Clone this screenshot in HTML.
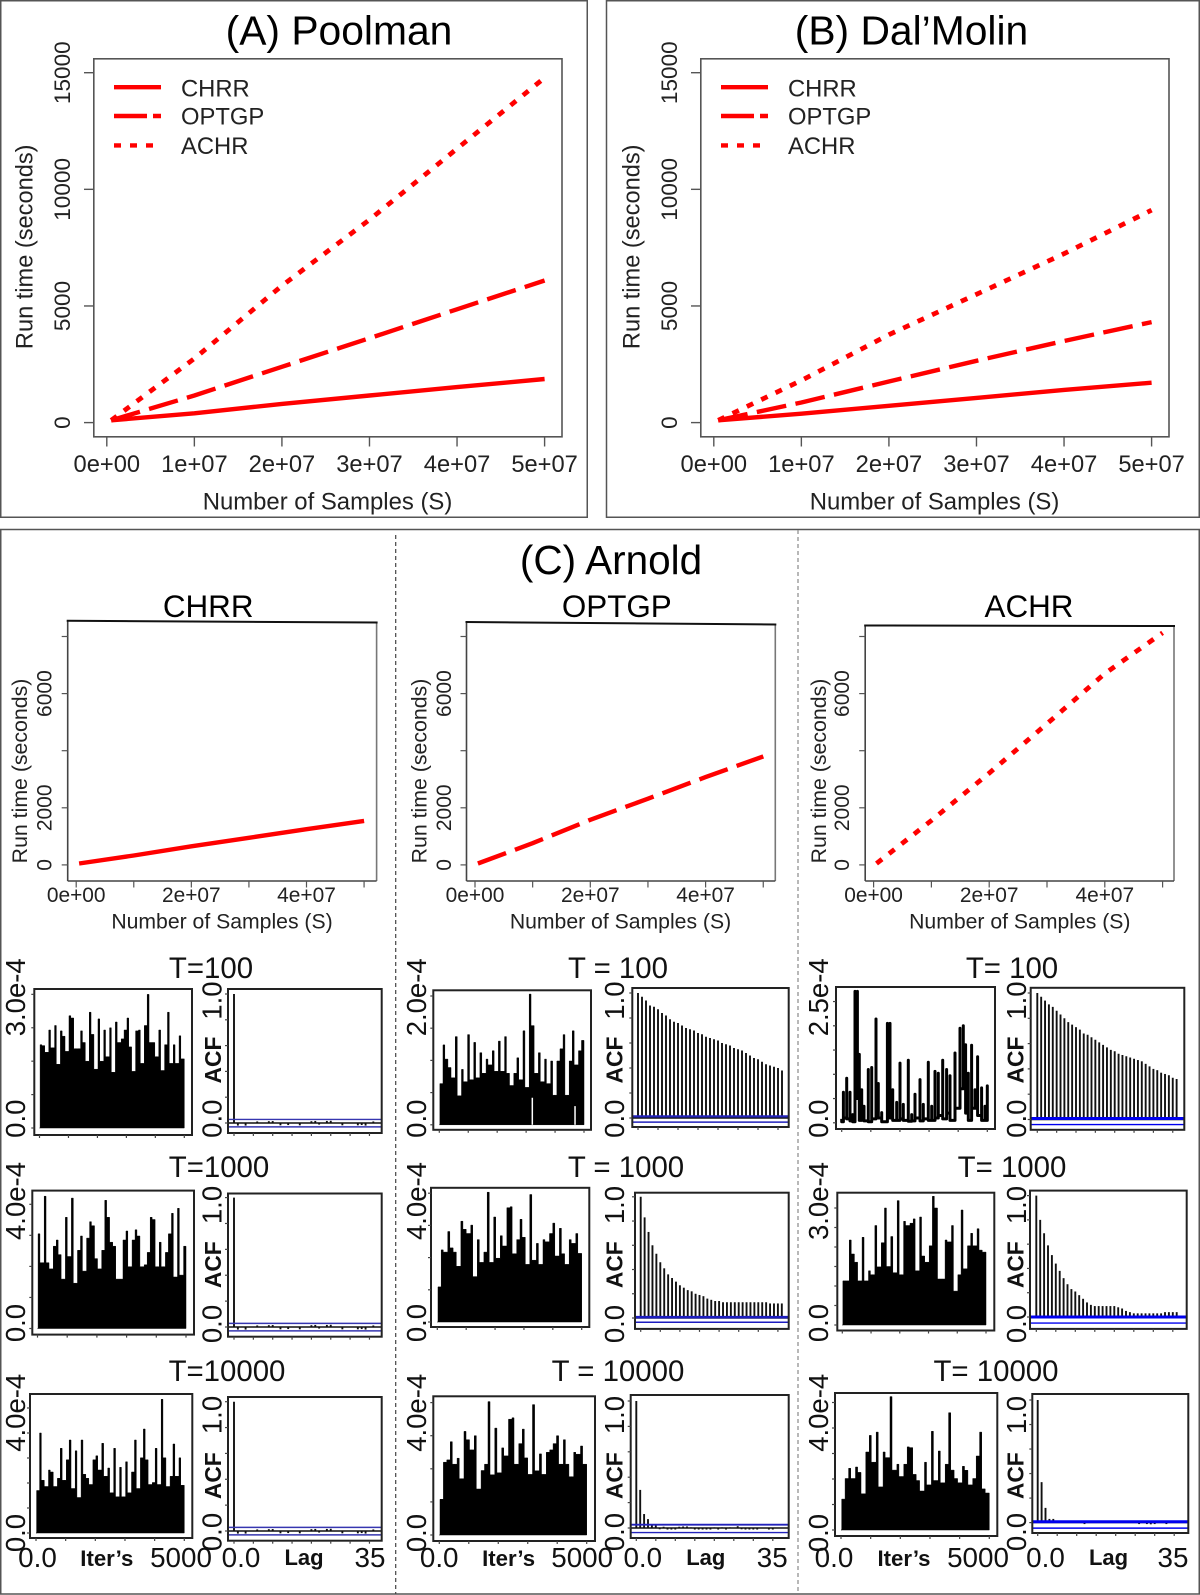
<!DOCTYPE html>
<html lang="en">
<head>
<meta charset="utf-8">
<title>Run time and trace comparison</title>
<style>
html,body{margin:0;padding:0;background:#fff;width:1200px;height:1595px;overflow:hidden}
svg{display:block;filter:blur(0.35px)}
text{font-family:"Liberation Sans",sans-serif}
</style>
</head>
<body>
<svg id="figure" xmlns="http://www.w3.org/2000/svg" width="1200" height="1595" viewBox="0 0 1200 1595"></svg>
<script>
/* ---------- run time data ---------- */
var sampleCounts = [5e5, 1e7, 2e7, 3e7, 4e7, 5e7];
var poolmanChrr  = [100, 400, 800, 1160, 1520, 1870];
var poolmanOptgp = [100, 1160, 2390, 3620, 4855, 6090];
var poolmanAchr  = [100, 2750, 5870, 8700, 11740, 14780];
var dalmolinChrr  = [100, 380, 720, 1060, 1400, 1710];
var dalmolinOptgp = [100, 860, 1760, 2650, 3500, 4310];
var dalmolinAchr  = [100, 1810, 3770, 5500, 7240, 9110];
var arnoldChrr  = [50, 330, 650, 950, 1250, 1540];
var arnoldOptgp = [50, 760, 1580, 2320, 3076, 3800];
var arnoldAchr  = [50, 1556, 3216, 4947, 6700, 8130];
var wideXTicks = [0, 1e7, 2e7, 3e7, 4e7, 5e7];
var wideXLabels = ["0e+00", "1e+07", "2e+07", "3e+07", "4e+07", "5e+07"];
var wideYTicks = [0, 5000, 10000, 15000];
var wideYLabels = ["0", "5000", "10000", "15000"];
var smallXLabels = ["0e+00", "", "2e+07", "", "4e+07", ""];
var smallYTicks = [0, 2000, 4000, 6000, 8000];
var smallYLabels = ["0", "2000", "", "6000", ""];

/* ---------- trace data (units of 1e-4) ---------- */
var traceChrr100 = [1.87,1.85,1.7,2.2,1.8,2.3,1.43,2.18,2.06,1.72,2.52,2.47,1.78,1.78,2.18,1.92,1.5,2.6,2.1,1.32,2.45,1.5,2.2,1.6,2.25,1.25,2.38,1.92,2.0,2.2,2.47,1.82,1.27,2.18,2.2,1.45,2.3,3.0,1.92,1.92,1.6,2.2,1.29,1.87,2.6,1.45,1.87,1.45,2.07,1.55];
var traceChrr1000 = [3.05,2.12,4.26,2.12,1.92,2.65,2.85,2.38,1.59,3.58,2.32,4.2,1.46,2.52,2.98,1.85,2.91,3.44,3.31,2.25,1.92,2.52,4.13,3.58,2.78,2.65,1.59,1.59,2.85,3.14,1.99,2.85,3.18,2.98,1.99,2.05,2.45,3.58,3.51,1.99,2.78,1.99,2.45,3.05,3.71,1.66,3.87,1.72,2.65];
var traceChrr10000 = [1.7,4,2.11,1.86,2.52,2.44,1.86,2.19,3.39,2.11,2.93,3.72,1.78,3.29,1.42,3.72,2.35,2.19,1.94,2.93,3.09,2.52,3.59,2.27,2.6,1.61,3.39,1.45,2.63,1.45,2.85,1.61,2.44,3.72,1.78,3.01,4.16,2.93,1.94,2.02,3.39,1.94,5.35,3.01,1.86,2.27,3.56,2.27,3.01,1.91];
var traceOptgp100 = [.64,1.24,1.02,.89,.73,1.37,.45,.86,.67,1.4,.7,1.28,.73,1.12,.8,1.02,.93,1.15,.83,1.3,.83,1.37,.8,.61,.8,1.04,.7,1.46,.58,2.03,1.54,.8,1.12,.67,1.02,.64,.99,.46,.99,1.18,1.4,.46,.99,1.46,.93,1.15,1.31];
var traceOptgp100Iter = [3214, 4690];
var traceOptgp100Notch = [.42, .29];
var traceOptgp1000 = [1.09,2.24,2.17,2.81,2.3,2.17,1.73,3.13,2.88,2.75,3.01,1.41,2.56,1.85,2.17,4.03,1.85,3.26,1.98,2.68,2.36,3.55,3.58,2.12,2.56,3.19,2.63,1.79,3.96,1.92,2.44,1.79,2.56,2.49,2.75,3.07,2.05,2.91,2.12,1.79,2.56,2.44,2.75,2.13];
var traceOptgp10000 = [1.08,2.2,2.27,2.82,2.14,2.32,1.7,3.13,2.88,2.57,3.0,1.39,1.95,2.14,4.03,1.82,3.23,1.88,2.63,2.39,3.5,3.54,2.14,2.76,3.2,2.33,1.83,3.94,1.94,2.45,1.83,2.5,2.57,2.76,3.0,2.14,2.88,2.14,1.76,2.5,2.44,2.69,2.14];
var traceAchr100Iter = [0,57,172,286,378,458,538,606,686,767,915,1030,1178,1258,1373,1568,1659,1751,1888,2002,2117,2288,2403,2517,2689,2803,2975,3089,3204,3318,3467,3604,3719,3890,4062,4176,4256,4348,4462,4577,4668,4805,4920,5000];
var traceAchr100High = [.08,.63,.92,.63,.17,2.71,2.71,1.41,.68,.34,1.1,1.14,2.14,.81,.21,2.05,2.05,.68,.42,1.23,.38,1.29,.17,.59,.89,.38,1.25,.34,1.06,1.02,1.29,1.1,.97,1.44,1.95,2.0,1.61,1.02,1.6,.68,1.36,.72,.34,.76];
var traceAchr100Low = [.02,.1,.08,.04,.02,.5,1.2,.05,.1,.04,.02,.08,.3,.1,.02,.6,.1,.05,.05,.08,.05,.03,.04,.1,.04,.08,.05,.05,.1,.15,.08,.2,.05,.3,.7,.8,.2,.05,.3,.3,.15,.05,.05,.2];
var traceAchr1000 = [1.13,1.13,2.18,1.82,1.61,1.13,2.25,1.13,1.39,1.29,2.55,1.49,2.11,3.0,1.5,2.27,1.34,3.19,1.29,2.66,2.55,2.61,2.72,1.39,2.77,1.77,1.61,2.03,3.3,3.0,1.18,1.18,2.18,2.13,2.55,.87,1.29,2.95,1.44,2.03,2.35,2.03,2.47,1.92,1.87];
var traceAchr10000 = [1.21,2.02,2.42,2.02,2.47,2.26,1.42,3.06,3.71,2.66,3.84,1.69,3.06,2.84,5.23,2.35,2.58,2.1,2.58,3.26,3.23,2.18,1.94,1.53,2.66,1.77,3.87,1.94,3.1,1.85,2.58,4.6,2.35,2.02,1.85,2.5,2.34,1.77,2.02,2.9,3.84,1.61,1.45];

/* ---------- autocorrelation data (lags 0..36) ---------- */
var acfChrrAll = [1,-.02,.004,-.02,.002,-.004,.012,-.002,.004,.014,.015,-.003,-.018,.002,-.016,-.002,.001,-.018,.002,-.004,.014,.016,-.012,.003,.016,.017,-.004,-.002,-.018,.002,.003,-.002,-.018,-.016,-.02,.003,.012];
var acfOptgp100 = [1,.97,.94,.90,.89,.87,.84,.82,.79,.77,.76,.74,.72,.71,.70,.68,.67,.65,.64,.63,.62,.60,.59,.58,.56,.55,.54,.52,.50,.48,.47,.45,.43,.42,.41,.40,.38];
var acfOptgp1000 = [1,.83,.71,.60,.53,.46,.41,.36,.33,.30,.27,.25,.23,.22,.20,.19,.18,.16,.15,.14,.14,.13,.13,.13,.13,.13,.13,.13,.13,.13,.13,.13,.13,.12,.12,.12,.12];
var acfOptgp10000 = [1,.30,.11,.07,.03,.02,-.01,.01,-.012,-.012,-.012,.01,.012,.012,.005,-.012,-.012,-.012,-.012,-.012,.005,-.012,.005,-.012,.005,-.002,.014,-.01,-.012,-.012,-.012,-.012,.004,.003,-.012,-.012,.002];
var acfAchr100 = [1,.97,.94,.91,.89,.86,.83,.80,.77,.75,.73,.71,.68,.67,.65,.63,.61,.59,.57,.55,.54,.52,.51,.50,.49,.48,.47,.46,.44,.42,.40,.39,.37,.36,.35,.33,.32];
var acfAchr1000 = [1,.80,.69,.59,.51,.44,.38,.32,.27,.23,.21,.18,.15,.12,.10,.09,.09,.09,.09,.09,.09,.08,.07,.05,.04,.03,.03,.03,.03,.03,.03,.03,.03,.04,.04,.04,.04];
var acfAchr10000 = [1,.33,.12,.03,.03,.005,.014,.005,.002,.004,.002,.003,-.012,.002,.003,.002,.003,.002,.002,.003,.002,.002,.003,.002,.002,.002,-.012,.003,-.012,-.014,-.012,.002,.002,-.012,.003,.014,.002];
var lagTicks = [0, 5, 10, 15, 20, 25, 30, 35];
var acfTicks = [0, .2, .4, .6, .8, 1];

var NS = "http://www.w3.org/2000/svg";
var fig = document.getElementById("figure");

function line(parent, name, x1, y1, x2, y2, color, w, dash) {
  var el = document.createElementNS(NS, "line");
  
  
  el.setAttribute("x1", x1); el.setAttribute("y1", y1);
  el.setAttribute("x2", x2); el.setAttribute("y2", y2);
  el.setAttribute("stroke", color); el.setAttribute("stroke-width", w);
  if (dash) el.setAttribute("stroke-dasharray", dash);
  parent.appendChild(el);
  return el;
}
function rect(parent, name, x, y, w, h, stroke, sw) {
  var el = document.createElementNS(NS, "rect");
  
  
  el.setAttribute("x", x); el.setAttribute("y", y);
  el.setAttribute("width", w); el.setAttribute("height", h);
  el.setAttribute("fill", "none"); el.setAttribute("stroke", stroke); el.setAttribute("stroke-width", sw);
  parent.appendChild(el);
  return el;
}
function text(parent, name, x, y, str, size, anchor, color, weight, rot) {
  var el = document.createElementNS(NS, "text");
  
  
  el.setAttribute("x", x); el.setAttribute("y", y);
  el.setAttribute("font-size", size);
  el.setAttribute("text-anchor", anchor || "middle");
  el.setAttribute("fill", color || "#222");
  if (weight) el.setAttribute("font-weight", weight);
  if (rot) el.setAttribute("transform", "rotate(-90 " + x + " " + y + ")");
  el.textContent = str;
  parent.appendChild(el);
  return el;
}
function path(parent, name, d, fill, stroke, sw, dash) {
  var el = document.createElementNS(NS, "path");
  
  
  el.setAttribute("d", d);
  el.setAttribute("fill", fill);
  if (stroke) { el.setAttribute("stroke", stroke); el.setAttribute("stroke-width", sw); el.setAttribute("stroke-linejoin", "round"); }
  if (dash) el.setAttribute("stroke-dasharray", dash);
  parent.appendChild(el);
  return el;
}
function group(name) {
  var g = document.createElementNS(NS, "g");
  
  
  fig.appendChild(g);
  return g;
}
var LONG_DASH = "30 9.5", DOT = "7 8.9";

function seriesPath(g, name, xs, ys, xf, yf, dash) {
  var d = "";
  for (var i = 0; i < xs.length; i++) d += (i ? "L" : "M") + xf(xs[i]).toFixed(1) + " " + yf(ys[i]).toFixed(1);
  path(g, name, d, "none", "#ff0000", dash === DOT ? 4.8 : 4.4, dash);
}

/* Large run-time chart (panels A and B) */
function wideChart(prefix, dx, titleStr, titleX, chrr, optgp, achr) {
  var g = group(prefix + "-chart");
  var xf = function (v) { return dx + 106.8 + v / 5e7 * 437.8; };
  var yf = function (v) { return 422.6 - v / 15000 * 349.9; };
  text(g, prefix + "-title", titleX, 44.6, titleStr, 40.8, "middle", "#000");
  rect(g, prefix + "-plot-box", dx + 93.8, 58.8, 468.2, 378, "#555", 1.6);
  wideXTicks.forEach(function (v, i) {
    line(g, prefix + "-x-tick", xf(v), 436.8, xf(v), 446.5, "#555", 1.4);
    text(g, prefix + "-x-tick-label", xf(v), 472, wideXLabels[i], 23.7);
  });
  wideYTicks.forEach(function (v, i) {
    line(g, prefix + "-y-tick", dx + 84, yf(v), dx + 93.8, yf(v), "#555", 1.4);
    text(g, prefix + "-y-tick-label", dx + 70, yf(v), wideYLabels[i], 22.6, "middle", "#222", null, true);
  });
  text(g, prefix + "-x-axis-title", dx + 327.5, 509.5, "Number of Samples (S)", 23.9);
  text(g, prefix + "-y-axis-title", dx + 32.5, 246.8, "Run time (seconds)", 23.6, "middle", "#222", null, true);
  seriesPath(g, prefix + "-line-achr", sampleCounts, achr, xf, yf, DOT);
  seriesPath(g, prefix + "-line-optgp", sampleCounts, optgp, xf, yf, LONG_DASH);
  seriesPath(g, prefix + "-line-chrr", sampleCounts, chrr, xf, yf, null);
  line(g, prefix + "-legend-line-chrr", dx + 114, 87.2, dx + 161, 87.2, "#ff0000", 4.4);
  line(g, prefix + "-legend-line-optgp", dx + 114, 116, dx + 161, 116, "#ff0000", 4.4, "33 6");
  line(g, prefix + "-legend-line-achr", dx + 114, 145.4, dx + 156, 145.4, "#ff0000", 4.4, "7 9");
  text(g, prefix + "-legend-label-chrr", dx + 181, 96.3, "CHRR", 23.8, "start");
  text(g, prefix + "-legend-label-optgp", dx + 181, 124.4, "OPTGP", 23.8, "start");
  text(g, prefix + "-legend-label-achr", dx + 181, 153.8, "ACHR", 23.8, "start");
}

/* Small run-time chart (panel C top row) */
function smallChart(prefix, l, r, topL, topR, x0, x4, titleStr, titleX, labelX, tickLabelX, xTitleX, series, dash) {
  var g = group(prefix + "-chart");
  var xf = function (v) { return x0 + v / 4e7 * (x4 - x0); };
  var yf = function (v) { return 864.9 - v / 2000 * 57.1; };
  text(g, prefix + "-title", titleX, 616.8, titleStr, 31.4, "middle", "#000");
  line(g, prefix + "-box-left", l, topL, l, 881, "#444", 1.6);
  line(g, prefix + "-box-right", r, topR, r, 881, "#777", 1.6);
  line(g, prefix + "-box-bottom", l, 881, r, 881, "#444", 1.6);
  line(g, prefix + "-box-top", l - 1, topL, r + 1, topR, "#111", 2);
  wideXTicks.forEach(function (v, i) {
    line(g, prefix + "-x-tick", xf(v), 881, xf(v), 887.5, "#555", 1.2);
    if (smallXLabels[i]) text(g, prefix + "-x-tick-label", xf(v), 902, smallXLabels[i], 20.9);
  });
  smallYTicks.forEach(function (v, i) {
    line(g, prefix + "-y-tick", l - 6, yf(v), l, yf(v), "#555", 1.2);
    if (smallYLabels[i]) text(g, prefix + "-y-tick-label", tickLabelX, yf(v), smallYLabels[i], 21, "middle", "#222", null, true);
  });
  text(g, prefix + "-x-axis-title", xTitleX, 928.5, "Number of Samples (S)", 21.2);
  text(g, prefix + "-y-axis-title", labelX, 771, "Run time (seconds)", 21.3, "middle", "#222", null, true);
  seriesPath(g, prefix + "-line", sampleCounts, series, xf, yf, dash);
}

/* Trace plot. values[i] evenly spaced over 0..5000 iterations */
function tracePlot(prefix, box, xL, xR, y0, pxPerUnit, tickStep, tickTop, values, iters, lows, notchIter, notchVal) {
  var g = group(prefix);
  var xf = function (it) { return xL + it / 5000 * (xR - xL); };
  var yf = function (v) { return y0 - v * pxPerUnit; };
  if (lows) {
    var d = "";
    values.forEach(function (v, i) {
      var x = xf(iters[i]).toFixed(1);
      d += (i ? "H" + x + "V" : "M" + x + " ") + yf(v).toFixed(1) + "V" + yf(lows[i]).toFixed(1);
    });
    path(g, prefix + "-line", d, "none", "#000", 3);
  } else {
    var n = values.length, w = (xR - xL) / n;
    var s = "M" + xL + " " + y0;
    values.forEach(function (v, i) {
      var c = xf((i + .5) / n * 5000);
      var next = i + 1 < n ? Math.min(v, values[i + 1]) : v;
      s += "H" + (c - .3 * w).toFixed(1) + "V" + yf(v).toFixed(1) + "H" + (c + .3 * w).toFixed(1) + "V" + yf(next).toFixed(1);
    });
    s += "H" + xR + "V" + y0 + "Z";
    path(g, prefix + "-area", s, "#000", "#000", 0.5);
    if (notchIter) notchIter.forEach(function (it, i) {
      line(g, prefix + "-notch", xf(it), y0, xf(it), yf(notchVal[i]), "#fff", 1.5);
    });
  }
  rect(g, prefix + "-box", box[0], box[1], box[2] - box[0], box[3] - box[1], "#222", 2);
  for (var t = 0; t <= 5; t++) line(g, prefix + "-x-tick", xf(t * 1000), box[3], xf(t * 1000), box[3] + 3, "#444", 1.2);
  for (var v = 0; v <= tickTop + 1e-6; v += tickStep) line(g, prefix + "-y-tick", box[0] - 3, yf(v), box[0], yf(v), "#444", 1.2);
}

/* Autocorrelation plot */
function acfPlot(prefix, box, x0, dLag, y0, yTop, up, low, values, blue, blueW) {
  var g = group(prefix);
  var xf = function (lag) { return x0 + lag * dLag; };
  var yf = function (v) { return y0 - v * (y0 - yTop); };
  values.forEach(function (v, lag) {
    line(g, prefix + "-bar-lag", xf(lag), y0, xf(lag), yf(v), "#111", 1.9);
  });
  line(g, prefix + "-zero-line", box[0], y0, box[2], y0, "#111", 1.4);
  line(g, prefix + "-ci-upper", box[0], yf(up), box[2], yf(up), blue, blueW);
  line(g, prefix + "-ci-lower", box[0], yf(low), box[2], yf(low), blue, 1.4);
  rect(g, prefix + "-box", box[0], box[1], box[2] - box[0], box[3] - box[1], "#222", 2);
  lagTicks.forEach(function (lag) { line(g, prefix + "-x-tick", xf(lag), box[3], xf(lag), box[3] + 3, "#444", 1.2); });
  acfTicks.forEach(function (v) { line(g, prefix + "-y-tick", box[0] - 3, yf(v), box[0], yf(v), "#444", 1.2); });
}

/* Panels */
rect(fig, "panel-a-border", 0.75, 0.75, 586.5, 516.5, "#555", 1.5);
rect(fig, "panel-b-border", 606.5, 0.75, 592.75, 516.5, "#555", 1.5);
rect(fig, "panel-c-border", 0.75, 529.5, 1198.5, 1064.5, "#555", 1.5);
line(fig, "column-divider-left", 395.7, 535, 395.7, 1594, "#444", 1.2, "4 3");
line(fig, "column-divider-right", 798, 530, 798, 1594, "#999", 1.4, "4 3");

wideChart("poolman", 0, "(A) Poolman", 339, poolmanChrr, poolmanOptgp, poolmanAchr);
wideChart("dalmolin", 607, "(B) Dal\u2019Molin", 911.5, dalmolinChrr, dalmolinOptgp, dalmolinAchr);
text(fig, "panel-c-title", 611, 574, "(C) Arnold", 40.5, "middle", "#000");

smallChart("arnold-chrr", 67.7, 376.6, 620.8, 622.5, 76.2, 306.5, "CHRR", 208.2, 26.8, 51.7, 222, arnoldChrr, null);
smallChart("arnold-optgp", 466.5, 775.3, 622, 624.5, 475, 705.6, "OPTGP", 616.8, 426.7, 450.8, 620.5, arnoldOptgp, LONG_DASH);
smallChart("arnold-achr", 865.2, 1174, 625.5, 626, 873.6, 1104.8, "ACHR", 1029, 825.8, 848.8, 1019.8, arnoldAchr, DOT);

/* Row titles */
[["T=100",211,978],["T=1000",219,1177],["T=10000",227,1381],
 ["T = 100",618,978],["T = 1000",626,1177],["T = 10000",618,1381],
 ["T= 100",1012,978],["T= 1000",1012,1177],["T= 10000",996,1381]].forEach(function (t) {
  text(fig, "trace-title", t[1], t[2], t[0], 29.4, "middle", "#111");
});

/* Column 1: CHRR */
tracePlot("chrr-t100-trace", [34.3,989,192,1135], 39.5, 184.3, 1128, 44.55, .75, 3, traceChrr100);
tracePlot("chrr-t1000-trace", [32.3,1190.6,194,1334.6], 37.5, 186, 1328.5, 31.05, 1, 4, traceChrr1000);
tracePlot("chrr-t10000-trace", [30,1394,192.3,1538], 36, 184.3, 1533, 25, 1, 5, traceChrr10000);
acfPlot("chrr-t100-acf", [228,989,381.7,1133], 234, 3.87, 1123, 994, .028, -.03, acfChrrAll, "#3636b0", 1.4);
acfPlot("chrr-t1000-acf", [228,1193.5,381.7,1336.7], 234, 3.87, 1327, 1197.6, .028, -.03, acfChrrAll, "#3636b0", 1.4);
acfPlot("chrr-t10000-acf", [228,1397,381.7,1540.7], 234, 3.87, 1531, 1401.7, .028, -.03, acfChrrAll, "#3636b0", 1.4);

/* Column 2: OPTGP */
tracePlot("optgp-t100-trace", [433.3,990.3,591,1129.8], 439.3, 584, 1124.8, 64.4, .5, 2, traceOptgp100, null, null, traceOptgp100Iter, traceOptgp100Notch);
tracePlot("optgp-t1000-trace", [431,1187.8,589.3,1327], 437.3, 581.7, 1322, 32.2, 1, 4, traceOptgp1000);
tracePlot("optgp-t10000-trace", [433.3,1396.3,595,1541], 439.3, 586.7, 1535, 33.1, 1, 4, traceOptgp10000);
acfPlot("optgp-t100-acf", [632.3,988,788.7,1127], 638, 4, 1118, 993, .013, -.033, acfOptgp100, "#2222bb", 2.2);
acfPlot("optgp-t1000-acf", [635,1192.7,788.7,1328.9], 640.7, 3.92, 1318, 1196.8, .007, -.035, acfOptgp1000, "#1c1cc0", 2.6);
acfPlot("optgp-t10000-acf", [630.7,1395,788.7,1538], 636.3, 3.9, 1528, 1401, .026, -.036, acfOptgp10000, "#2222bb", 1.8);

/* Column 3: ACHR */
tracePlot("achr-t100-trace", [836,987,995,1129], 841.7, 987.3, 1122.8, 48.5, .5, 2.5, traceAchr100High, traceAchr100Iter, traceAchr100Low);
tracePlot("achr-t1000-trace", [837.3,1192.7,994.3,1330.5], 842.3, 986, 1325, 39, .5, 3, traceAchr1000);
tracePlot("achr-t10000-trace", [835,1393,997.3,1536], 841, 989.3, 1530, 25.5, 1, 5, traceAchr10000);
acfPlot("achr-t100-acf", [1030.7,987.8,1184.3,1129.8], 1037.3, 3.87, 1119.5, 993, .008, -.04, acfAchr100, "#0000ee", 3);
acfPlot("achr-t1000-acf", [1030,1190.6,1186.7,1328.9], 1036.3, 3.9, 1317, 1195.6, 0, -.05, acfAchr1000, "#0000ee", 3);
acfPlot("achr-t10000-acf", [1032.3,1394,1188.3,1533], 1037.7, 3.9, 1522.6, 1400, .007, -.045, acfAchr10000, "#0000ee", 3);

/* Trace & ACF rotated labels */
[[25,221.7,221,"3.0e-4","4.0e-4","4.0e-4"],
 [426,624,622.3,"2.0e-4","4.0e-4","4.0e-4"],
 [828,1026,1023.3,"2.5e-4","3.0e-4","4.0e-4"]].forEach(function (c) {
  var rowsTrace = [[997.3,1118.7],[1201,1323],[1412.8,1533]];
  var rowsAcf = [[1000.6,1118.7,1060],[1205,1324,1264.7],[1415,1532,1475.7]];
  for (var r = 0; r < 3; r++) {
    text(fig, "trace-y-tick-label", c[0], rowsTrace[r][0], c[3 + r], 27.5, "middle", "#111", null, true);
    text(fig, "trace-y-tick-label", c[0], rowsTrace[r][1], "0.0", 27.5, "middle", "#111", null, true);
    text(fig, "acf-y-tick-label", c[1], rowsAcf[r][0], "1.0", 27.5, "middle", "#111", null, true);
    text(fig, "acf-y-tick-label", c[1], rowsAcf[r][1], "0.0", 27.5, "middle", "#111", null, true);
    text(fig, "acf-y-axis-title", c[2], rowsAcf[r][2], "ACF", 22.8, "middle", "#111", "bold", true);
  }
});

/* Bottom axis labels */
[[37.5,106.8,181,304,370],[439.2,508.6,582.2,705.8,772.2],[834,904,978,1108.5,1173]].forEach(function (c, i) {
  var base = ["chrr", "optgp", "achr"][i];
  text(fig, base + "-iter-start-label", c[0], 1567, "0.0", 27.8, "middle", "#111");
  text(fig, base + "-iter-axis-title", c[1], 1566, "Iter\u2019s", 22.2, "middle", "#111", "bold");
  text(fig, base + "-iter-end-label", c[2], 1567, "5000", 27.8, "middle", "#111");
  text(fig, base + "-lag-start-label", c[3] - 63, 1567, "0.0", 27.8, "middle", "#111");
  text(fig, base + "-lag-axis-title", c[3], 1565, "Lag", 22, "middle", "#111", "bold");
  text(fig, base + "-lag-end-label", c[4], 1567, "35", 27.8, "middle", "#111");
});
</script>
</body>
</html>
